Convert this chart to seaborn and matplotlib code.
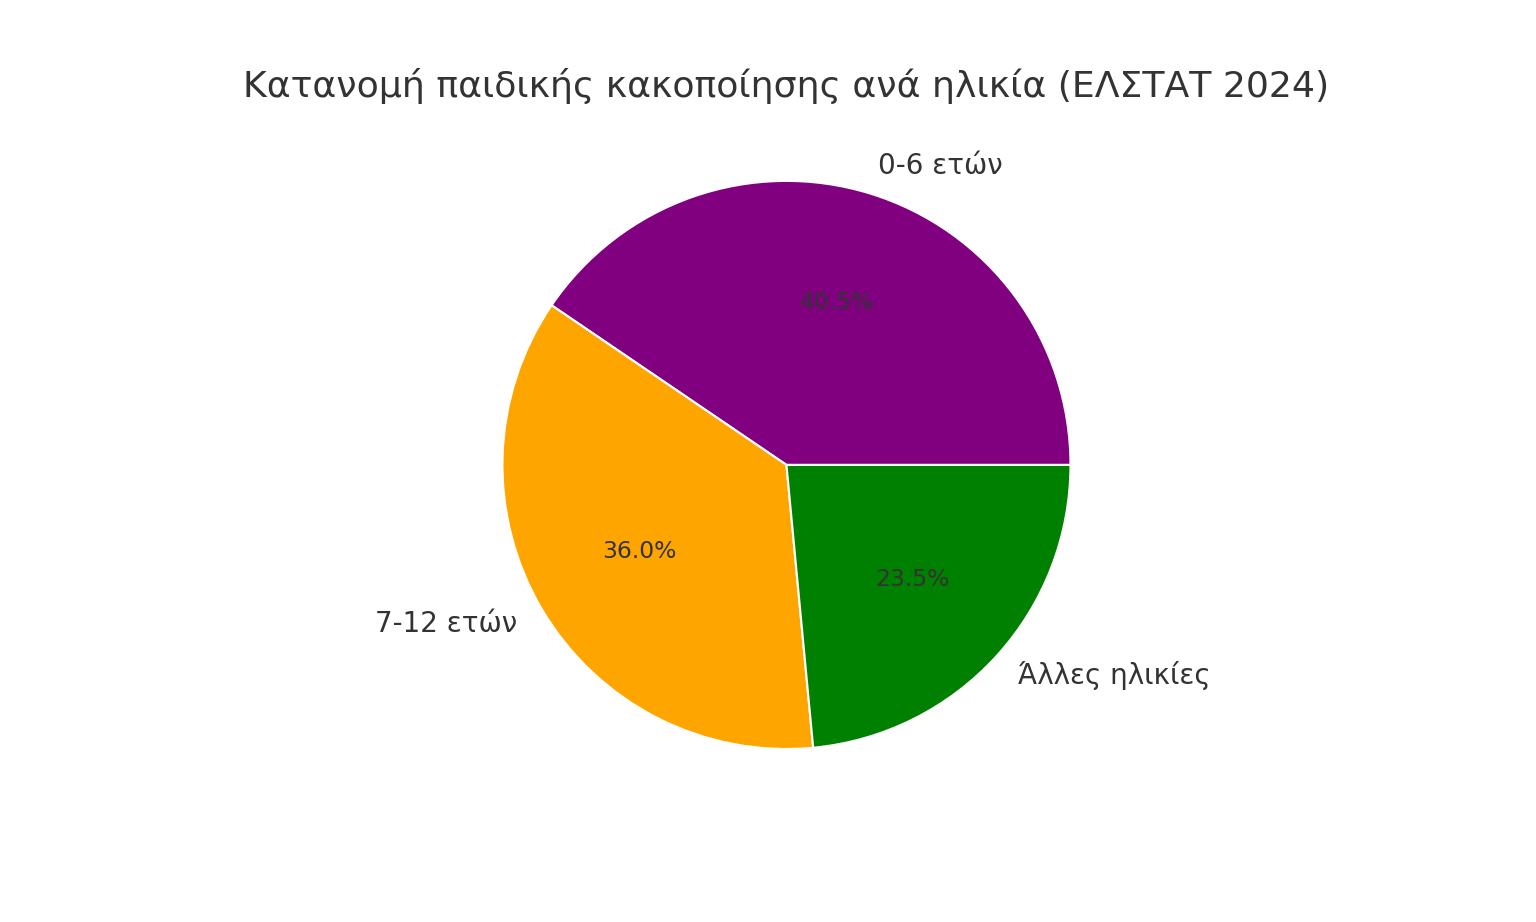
import matplotlib
matplotlib.use("Agg")
from matplotlib import pyplot as plt
import seaborn as sns

# Age groups and share of cases
labels = ["0-6 ετών", "7-12 ετών", "Άλλες ηλικίες"]
shares = [40.5, 36.0, 23.5]
colors = ["purple", "orange", "green"]

sns.set_theme(style="white")
plt.rcParams['font.family'] = ['DejaVu Sans']
text_col = "#333333"

fig = plt.figure(figsize=(10, 6.003), dpi=153.6)
ax = fig.add_axes([0, 0, 1, 1])
ax.pie(shares, labels=labels, colors=colors, autopct="%1.1f%%", startangle=0,
       textprops={"color": text_col, "fontsize": 13})
for t in ax.texts:
    if "%" in t.get_text():
        t.set_fontsize(11)

ax.set_aspect("auto")
ax.set_xlim(-2.769, 2.639)
ax.set_ylim(-1.609, 1.637)
ax.axis("off")

fig.text(0.512, 0.907, "Κατανομή παιδικής κακοποίησης ανά ηλικία (ΕΛΣΤΑΤ 2024)",
         ha="center", va="center", fontsize=17, color=text_col)

fig.savefig("out.png", dpi=153.6)
